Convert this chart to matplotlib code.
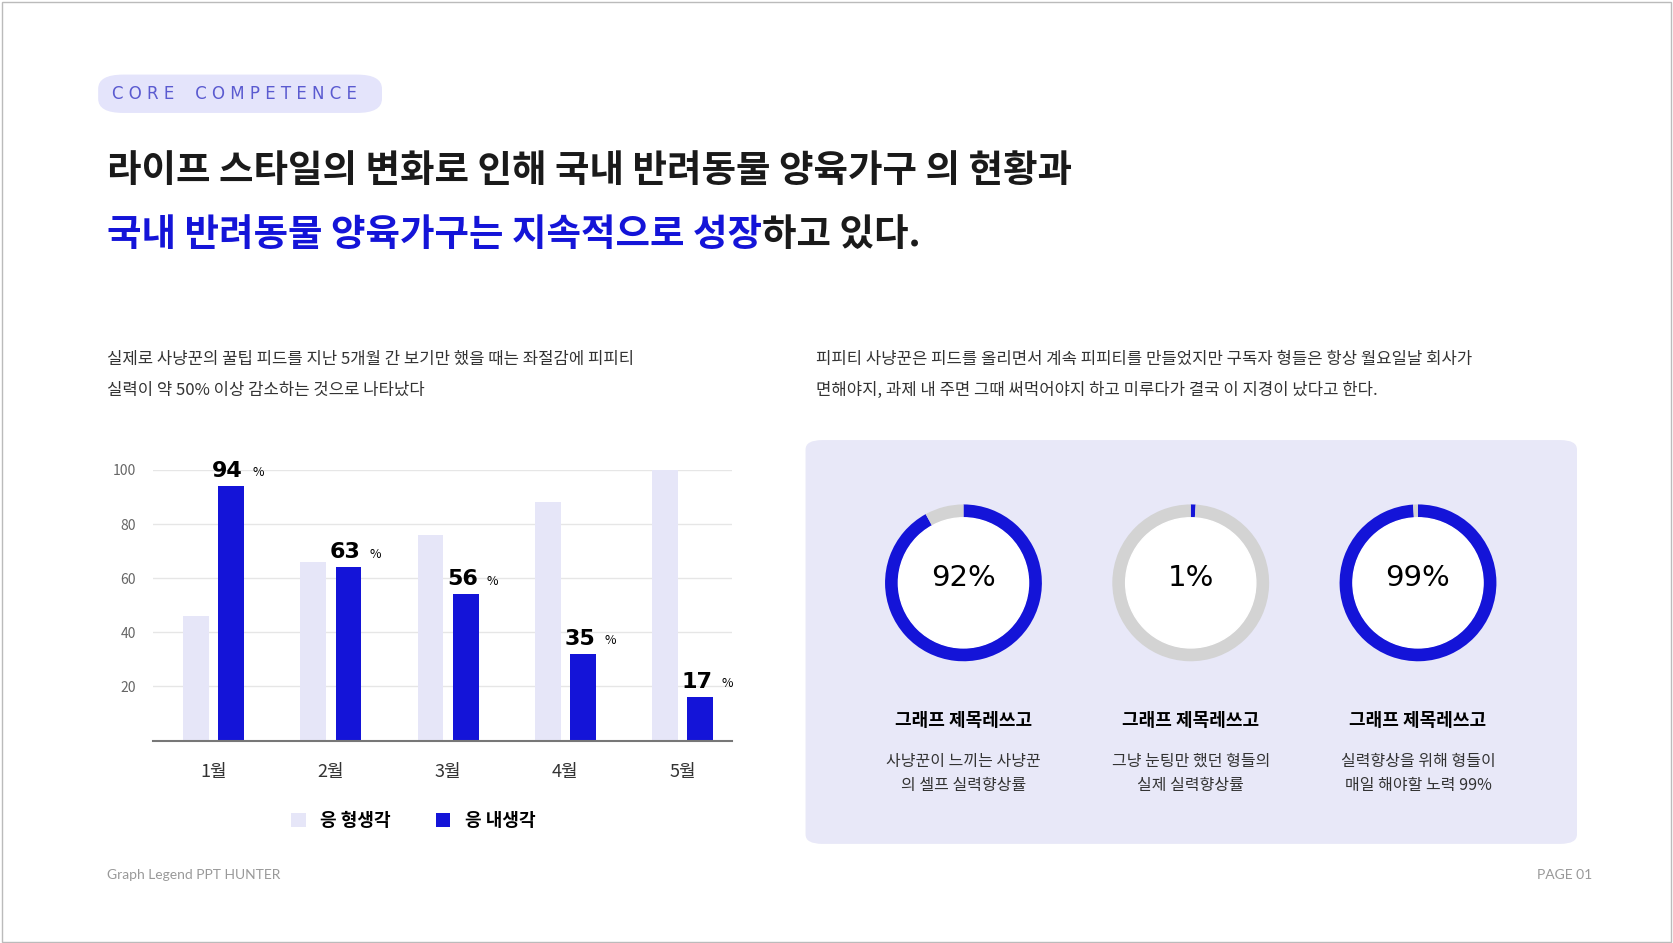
import matplotlib.pyplot as plt
from matplotlib.patches import FancyBboxPatch, Rectangle
import numpy as np

plt.rcParams["font.family"] = "sans-serif"
plt.rcParams["font.sans-serif"] = ["Noto Sans CJK KR", "Noto Sans CJK JP", "DejaVu Sans"]

months = ["1월", "2월", "3월", "4월", "5월"]
light_vals = [46, 66, 76, 88, 100]
dark_vals = [94, 64, 54, 32, 16]
dark_labels = ["94", "63", "56", "35", "17"]
donut_vals = [92, 1, 99]
donut_titles = ["그래프 제목레쓰고", "그래프 제목레쓰고", "그래프 제목레쓰고"]
donut_texts = ["사냥꾼이 느끼는 사냥꾼\n의 셀프 실력향상률",
               "그냥 눈팅만 했던 형들의\n실제 실력향상률",
               "실력향상을 위해 형들이\n매일 해야할 노력 99%"]

BLUE = "#1414d8"
LIGHT = "#e6e6f8"
W, H = 1568, 885


def fx(x):
    return x / W


def fy(y):
    return 1 - y / H


fig = plt.figure(figsize=(16.73, 9.43), dpi=100)
fig.patch.set_facecolor("white")
fig.patches.append(Rectangle((0.001, 0.001), 0.998, 0.997, transform=fig.transFigure,
                             fill=False, edgecolor="#bbbbbb", lw=1, zorder=-5))

# header pill
fig.patches.append(FancyBboxPatch((fx(92), fy(106)), fx(266), fy(70) - fy(106),
                                  boxstyle="round,pad=0,rounding_size=0.015",
                                  transform=fig.transFigure, facecolor="#e4e4fb",
                                  edgecolor="none", zorder=-5))
fig.text(fx(105), fy(88), "C O R E    C O M P E T E N C E", fontsize=12, color="#5a5ad0",
         va="center", family="DejaVu Sans")

fig.text(fx(100), fy(160), "라이프 스타일의 변화로 인해 국내 반려동물 양육가구 의 현황과",
         fontsize=27, fontweight="bold", color="#1a1a1a", va="center")
t = fig.text(fx(100), fy(220), "국내 반려동물 양육가구는 지속적으로 성장", fontsize=27,
             fontweight="bold", color=BLUE, va="center")
fig.canvas.draw()
bb = t.get_window_extent().transformed(fig.transFigure.inverted())
fig.text(bb.x1, fy(220), "하고 있다.", fontsize=27, fontweight="bold", color="#1a1a1a", va="center")

fig.text(fx(100), fy(337), "실제로 사냥꾼의 꿀팁 피드를 지난 5개월 간 보기만 했을 때는 좌절감에 피피티",
         fontsize=12, color="#333333", va="center")
fig.text(fx(100), fy(366), "실력이 약 50% 이상 감소하는 것으로 나타났다", fontsize=12, color="#333333",
         va="center")
fig.text(fx(765), fy(337), "피피티 사냥꾼은 피드를 올리면서 계속 피피티를 만들었지만 구독자 형들은 항상 월요일날 회사가",
         fontsize=12, color="#333333", va="center")
fig.text(fx(765), fy(366), "면해야지, 과제 내 주면 그때 써먹어야지 하고 미루다가 결국 이 지경이 났다고 한다.",
         fontsize=12, color="#333333", va="center")

# bar chart
ax = fig.add_axes([fx(143), fy(695), fx(686) - fx(143), fy(441) - fy(695)])
x = np.arange(len(months))
bw = 0.22
ax.bar(x - 0.15, light_vals, bw, color=LIGHT, label="응 형생각", zorder=2)
ax.bar(x + 0.15, dark_vals, bw, color=BLUE, label="응 내생각", zorder=2)
for xi, v, lab in zip(x, dark_vals, dark_labels):
    ax.annotate(lab, (xi + 0.12, v + 2), ha="center", va="bottom", fontsize=16,
                fontweight="bold", annotation_clip=False, family="DejaVu Sans")
    ax.annotate("%", (xi + 0.12, v + 2), xytext=(22, 1), textcoords="offset points",
                ha="center", va="bottom", fontsize=9, annotation_clip=False)
ax.set_ylim(0, 100)
ax.set_xlim(-0.52, 4.42)
ax.set_yticks([20, 40, 60, 80, 100])
ax.set_xticks(x)
ax.set_xticklabels(months, fontsize=13, color="#333333")
ax.tick_params(axis="y", length=0, labelsize=10, labelcolor="#666666", pad=12)
ax.tick_params(axis="x", length=0, pad=16)
ax.grid(axis="y", color="#e6e6e6", lw=1, zorder=0)
for s in ["top", "right", "left"]:
    ax.spines[s].set_visible(False)
ax.spines["bottom"].set_color("#777777")
ax.spines["bottom"].set_linewidth(1.5)
ax.legend(loc="upper center", bbox_to_anchor=(0.45, -0.2), ncol=2, frameon=False,
          handlelength=0.8, handleheight=0.8, columnspacing=2.5,
          prop={"weight": "bold", "size": 13})

# donut panel
fig.patches.append(FancyBboxPatch((fx(755), fy(792)), fx(1478) - fx(755), fy(413) - fy(792),
                                  boxstyle="round,pad=0,rounding_size=0.01",
                                  transform=fig.transFigure, facecolor="#e8e8f8",
                                  edgecolor="none", zorder=-5))
for cx, val, title, txt in zip([903, 1116, 1329], donut_vals, donut_titles, donut_texts):
    r = 92
    dax = fig.add_axes([fx(cx - r), fy(547 + r), fx(2 * r), fy(547 - r) - fy(547 + r)])
    dax.pie([val, 100 - val], colors=[BLUE, "#d3d3d3"], startangle=90, counterclock=False,
            wedgeprops=dict(width=0.17, edgecolor="none"))
    dax.add_patch(plt.Circle((0, 0), 0.83, color="white"))
    dax.text(0, 0.06, f"{val}%", ha="center", va="center", fontsize=21, family="DejaVu Sans")
    dax.set_aspect("equal")
    dax.axis("off")
    fig.text(fx(cx), fy(676), title, ha="center", va="center", fontsize=13, fontweight="bold")
    fig.text(fx(cx), fy(726), txt, ha="center", va="center", fontsize=11.5, color="#333333",
             linespacing=1.6)

fig.text(fx(100), fy(821), "Graph Legend PPT HUNTER", fontsize=10, color="#999999", va="center",
         family="Lato")
fig.text(fx(1492), fy(821), "PAGE 01", fontsize=10, color="#999999", va="center", ha="right",
         family="Lato")

fig.savefig("out.png", dpi=100)
